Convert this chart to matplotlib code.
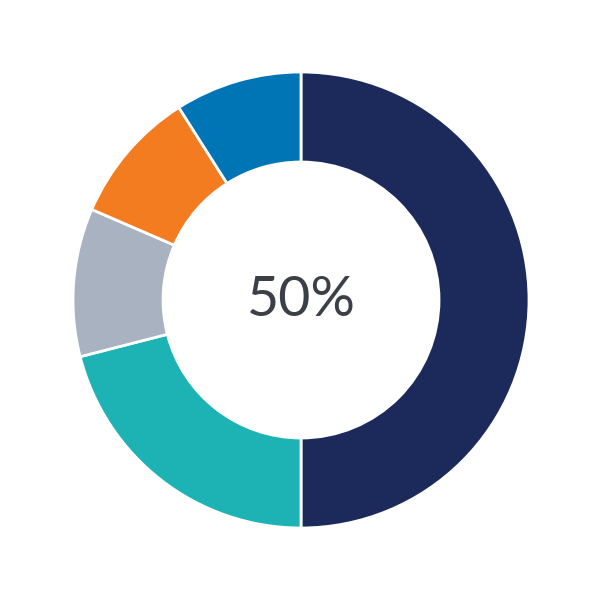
import matplotlib.pyplot as plt

labels = ['A', 'B', 'C', 'D', 'E']
values = [50, 21, 10.5, 9.5, 9]
colors = ['#1b2a5a', '#1db3b4', '#a8b2c1', '#f37b20', '#0075b6']
center_text = '50%'

fig = plt.figure(figsize=(6, 6), dpi=100)
ax = fig.add_axes([0, 0, 1, 1])

r = 228.0
ax.pie(values, colors=colors, startangle=90, counterclock=False,
       radius=1, wedgeprops=dict(width=90 / r, edgecolor='white', linewidth=2))

ax.text(0, 0, center_text, ha='center', va='center', fontsize=40,
        color='#3b3f48', family=['Lato', 'DejaVu Sans'])

ax.set_xlim(-301 / r, 299 / r)
ax.set_ylim(-300 / r, 300 / r)
ax.set_aspect('equal')
ax.axis('off')

fig.savefig('out.png', dpi=100, facecolor='white')
